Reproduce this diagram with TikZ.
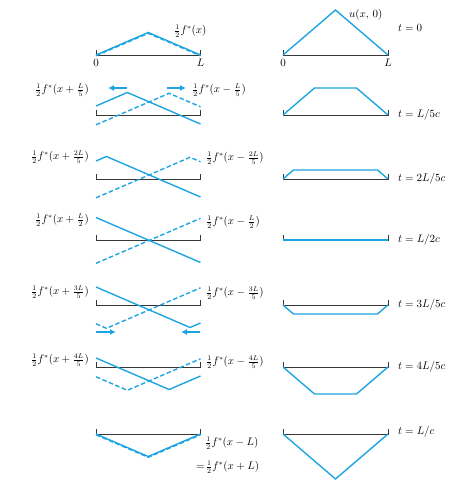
\documentclass[tikz,border=0pt]{standalone}
\usepackage{amsmath}
\usetikzlibrary{arrows.meta}
\definecolor{wavecol}{RGB}{30,165,225}
\definecolor{stringcol}{RGB}{55,55,55}

\begin{document}
\begin{tikzpicture}[x=1pt,y=-1pt,
        declare function={tri(\t)=2*abs(mod(\t+3.5,2)-1)-1;},
        string/.style={stringcol,line width=0.8pt},
        wave/.style={wavecol,line width=1.4pt},
        halfwave/.style={wave,dash pattern=on 4.5pt off 2.5pt},
        motion/.style={wavecol,line width=1.6pt,-{Latex[length=6pt,width=6pt]}},
        lbl/.style={inner sep=1pt,font=\fontsize{10.5}{12}\selectfont}]
        \useasboundingbox (0,0) rectangle (474,487);
        % strings, travelling halves and their sum
        \foreach \yy/\s in {55/0,115/0.2,179/0.4,240/0.5,305/0.6,367/0.8,434/1}{
            \draw[string] (96,\yy-5) -- (96,\yy) -- (200.5,\yy) -- (200.5,\yy-5);
            \draw[string] (283,\yy-5) -- (283,\yy) -- (388,\yy) -- (388,\yy-5);
            \draw[wave] plot[domain=0:1,samples=11] ({96+104.5*\x},{\yy-22.5*tri(\x+\s)});
            \draw[halfwave] plot[domain=0:1,samples=11] ({96+104.5*\x},{\yy+0.8-22.5*tri(\x-\s)});
            \draw[wave] plot[domain=0:1,samples=11] ({283+105*\x},{\yy-22.5*(tri(\x+\s)+tri(\x-\s))});
        }
        % ends of the strings
        \node[lbl] (lo) at (96,63) {$0$};
        \node[lbl] (ll) at (200.5,63) {$L$};
        \node[lbl] (ro) at (283,63) {$0$};
        \node[lbl] (rl) at (388,63) {$L$};
        % motion arrows
        \draw[motion] (127,88) -- (108,88);
        \draw[motion] (167,88) -- (186,88);
        \draw[motion] (96,332) -- (116,332);
        \draw[motion] (200,332) -- (181,332);
        % left column labels
        \node[lbl,anchor=west] (half0) at (173,31) {$\frac12 f^*(x)$};
        \node[lbl,anchor=east] (plus1) at (90,90) {$\frac12 f^*(x+\frac{L}{5})$};
        \node[lbl,anchor=west] (minus1) at (191,90) {$\frac12 f^*(x-\frac{L}{5})$};
        \node[lbl,anchor=east] (plus2) at (90,157) {$\frac12 f^*(x+\frac{2L}{5})$};
        \node[lbl,anchor=west] (minus2) at (205,158) {$\frac12 f^*(x-\frac{2L}{5})$};
        \node[lbl,anchor=east] (plus3) at (90,220) {$\frac12 f^*(x+\frac{L}{2})$};
        \node[lbl,anchor=west] (minus3) at (205,222) {$\frac12 f^*(x-\frac{L}{2})$};
        \node[lbl,anchor=east] (plus4) at (90,292) {$\frac12 f^*(x+\frac{3L}{5})$};
        \node[lbl,anchor=west] (minus4) at (205,293) {$\frac12 f^*(x-\frac{3L}{5})$};
        \node[lbl,anchor=east] (plus5) at (90,360) {$\frac12 f^*(x+\frac{4L}{5})$};
        \node[lbl,anchor=west] (minus5) at (205,362) {$\frac12 f^*(x-\frac{4L}{5})$};
        \node[lbl,anchor=west] (minus6) at (204,443) {$\frac12 f^*(x-L)$};
        \node[lbl,anchor=west] (plus6) at (195,467) {$=\!\frac12 f^*(x+L)$};
        % right column labels
        \node[lbl,anchor=west] (u0) at (348,15) {$u(x,\,0)$};
        \node[lbl,anchor=west] (t0) at (397,28) {$t=0$};
        \node[lbl,anchor=west] (t1) at (397,115) {$t=L/5c$};
        \node[lbl,anchor=west] (t2) at (397,179) {$t=2L/5c$};
        \node[lbl,anchor=west] (t3) at (397,240) {$t=L/2c$};
        \node[lbl,anchor=west] (t4) at (397,305) {$t=3L/5c$};
        \node[lbl,anchor=west] (t5) at (397,367) {$t=4L/5c$};
        \node[lbl,anchor=west] (t6) at (397,432) {$t=L/c$};
    \end{tikzpicture}
\end{document}
